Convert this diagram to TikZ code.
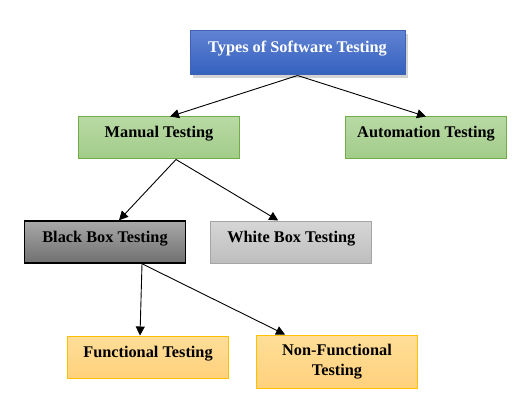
\documentclass[tikz,border=0pt]{standalone}
\usepackage{fontspec}
\setmainfont{Liberation Serif}
\usepackage{tikz}
\usetikzlibrary{arrows.meta,positioning,shadows}

\definecolor{bluetop}{RGB}{96,131,211}
\definecolor{bluebot}{RGB}{52,96,190}
\definecolor{blueline}{RGB}{62,98,180}
\definecolor{greentop}{RGB}{184,217,164}
\definecolor{greenbot}{RGB}{162,204,137}
\definecolor{greenline}{RGB}{112,173,71}
\definecolor{darktop}{RGB}{168,168,168}
\definecolor{darkbot}{RGB}{112,112,112}
\definecolor{lighttop}{RGB}{214,214,214}
\definecolor{lightbot}{RGB}{190,190,190}
\definecolor{lightline}{RGB}{165,165,165}
\definecolor{orangetop}{RGB}{255,222,152}
\definecolor{orangebot}{RGB}{255,209,124}
\definecolor{orangeline}{RGB}{255,192,0}

\begin{document}
\begin{tikzpicture}[
x=1pt, y=-1pt,
>={Triangle[length=9pt,width=9pt]},
box/.style={rectangle, inner sep=0pt, line width=1pt, minimum width=161pt, font=\fontsize{16.3}{20}\selectfont\bfseries},
oneline/.style={text height=21pt, text depth=21pt},
root/.style={box, minimum width=215pt, text height=22pt, text depth=22pt, draw=blueline, top color=bluetop, bottom color=bluebot, text=white, drop shadow={shadow xshift=2.5pt, shadow yshift=-3pt, opacity=0.35}},
manualkind/.style={box, oneline, draw=greenline, top color=greentop, bottom color=greenbot},
blackkind/.style={box, oneline, draw=black, line width=1.5pt, top color=darktop, bottom color=darkbot},
whitekind/.style={box, oneline, draw=lightline, top color=lighttop, bottom color=lightbot},
funckind/.style={box, draw=orangeline, top color=orangetop, bottom color=orangebot},
link/.style={->, line width=0.9pt},
]
\useasboundingbox (0,0) rectangle (532,414);

%Nodes
\node[root]        (types)         at (297.5,53)  {Types of Software Testing};
\node[manualkind]  (manual)        at (159,138)   {Manual Testing};
\node[manualkind]  (automation)    [right=105pt of manual]  {Automation Testing};
\node[blackkind]   (blackbox)      at (105,242)   {Black Box Testing};
\node[whitekind]   (whitebox)      [right=24pt of blackbox] {White Box Testing};
\node[funckind, oneline] (functional) at (148,357) {Functional Testing};
\node[funckind, minimum height=53pt, align=center] (nonfunctional) [right=27pt of functional, yshift=-4.5pt] {Non-Functional\\Testing};

%Lines
\draw[link] (types.south) -- ([xshift=11pt]manual.north);
\draw[link] (types.south) -- (automation.north);
\draw[link] ([xshift=17pt]manual.south) -- ([xshift=14pt]blackbox.north);
\draw[link] ([xshift=17pt]manual.south) -- ([xshift=-13pt]whitebox.north);
\draw[link] ([xshift=37pt]blackbox.south) -- ([xshift=-8pt]functional.north);
\draw[link] ([xshift=37pt]blackbox.south) -- ([xshift=-52pt]nonfunctional.north);
\end{tikzpicture}
\end{document}
